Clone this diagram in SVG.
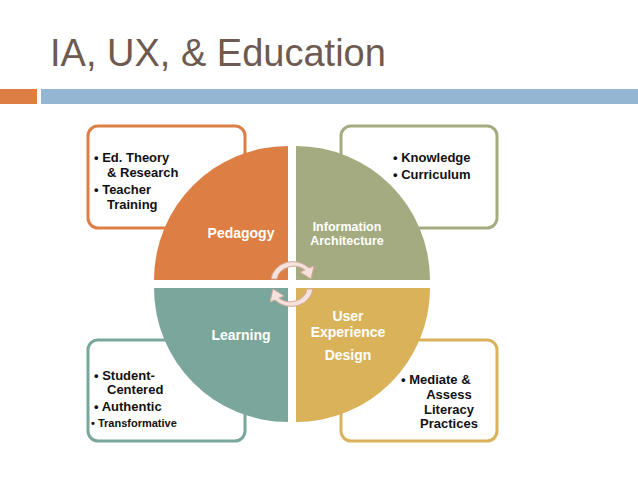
<svg xmlns="http://www.w3.org/2000/svg" width="638" height="478" viewBox="0 0 638 478">
<style>
.b{fill:#fff;stroke-width:3}
.t{font-family:"Liberation Sans",Arial,sans-serif;font-weight:bold;font-size:13px;fill:#111}
.w{font-family:"Liberation Sans",Arial,sans-serif;font-weight:bold;fill:#fff}
.ar{fill:#f4e2dc;stroke:#d6a89c;stroke-width:1}
</style>
<rect width="638" height="478" fill="#fff"/>
<text x="50" y="66" font-family="Liberation Sans,Arial,sans-serif" font-size="38" fill="#6e5a50">IA, UX, &amp; Education</text>
<rect x="0" y="89" width="37" height="15" fill="#dd7e44"/>
<rect x="41" y="89" width="597" height="15" fill="#94b6d2"/>
<g id="box-tl"><rect class="b" x="88" y="126" width="157" height="102" rx="10" stroke="#dd7e44"/>
<text class="t" x="94" y="162">• Ed. Theory</text><text class="t" x="107" y="177">&amp; Research</text>
<text class="t" x="94" y="194">• Teacher</text><text class="t" x="107" y="209">Training</text></g>
<g id="box-tr"><rect class="b" x="341" y="126" width="156" height="102" rx="10" stroke="#a5ab80"/>
<text class="t" x="393" y="162">• Knowledge</text><text class="t" x="393" y="179">• Curriculum</text></g>
<g id="box-bl"><rect class="b" x="88" y="340" width="157" height="101" rx="10" stroke="#7aa69b"/>
<text class="t" x="94" y="380">• Student-</text><text class="t" x="107" y="394">Centered</text>
<text class="t" x="94" y="411">• Authentic</text><text class="t" x="91" y="427" style="font-size:11px">• Transformative</text></g>
<g id="box-br"><rect class="b" x="341" y="340" width="156" height="101" rx="10" stroke="#d9b25a"/>
<text class="t" x="401" y="384">• Mediate &amp;</text><text class="t" x="449" y="399" text-anchor="middle">Assess</text>
<text class="t" x="449" y="414" text-anchor="middle">Literacy</text><text class="t" x="449" y="428" text-anchor="middle">Practices</text></g>
<g id="pedagogy"><path d="M288 280 H154 A134 134 0 0 1 288 146 Z" fill="#dd7e44"/>
<text class="w" x="241" y="238" font-size="14" text-anchor="middle">Pedagogy</text></g>
<g id="ia"><path d="M296 280 V146 A134 134 0 0 1 430 280 Z" fill="#a5ab80"/>
<text class="w" x="347" y="231" font-size="12.5" text-anchor="middle">Information</text>
<text class="w" x="347" y="245" font-size="12.5" text-anchor="middle">Architecture</text></g>
<g id="learning"><path d="M288 288 V422 A134 134 0 0 1 154 288 Z" fill="#7aa69b"/>
<text class="w" x="241" y="340" font-size="14" text-anchor="middle">Learning</text></g>
<g id="uxd"><path d="M296 288 H430 A134 134 0 0 1 296 422 Z" fill="#d9b25a"/>
<text class="w" x="348" y="321" font-size="14" text-anchor="middle">User</text>
<text class="w" x="348" y="337" font-size="14" text-anchor="middle">Experience</text>
<text class="w" x="348" y="360" font-size="14" text-anchor="middle">Design</text></g>
<g id="connectors">
<path class="ar" d="M271 279 A22 20 0 0 1 309 268 L314 266 L311 279 L300 272 L305 270 A17 15 0 0 0 277 279 Z"/>
<path class="ar" d="M313 289 A22 20 0 0 1 275 300 L270 302 L273 289 L284 296 L279 298 A17 15 0 0 0 307 289 Z"/>
</g>
</svg>
